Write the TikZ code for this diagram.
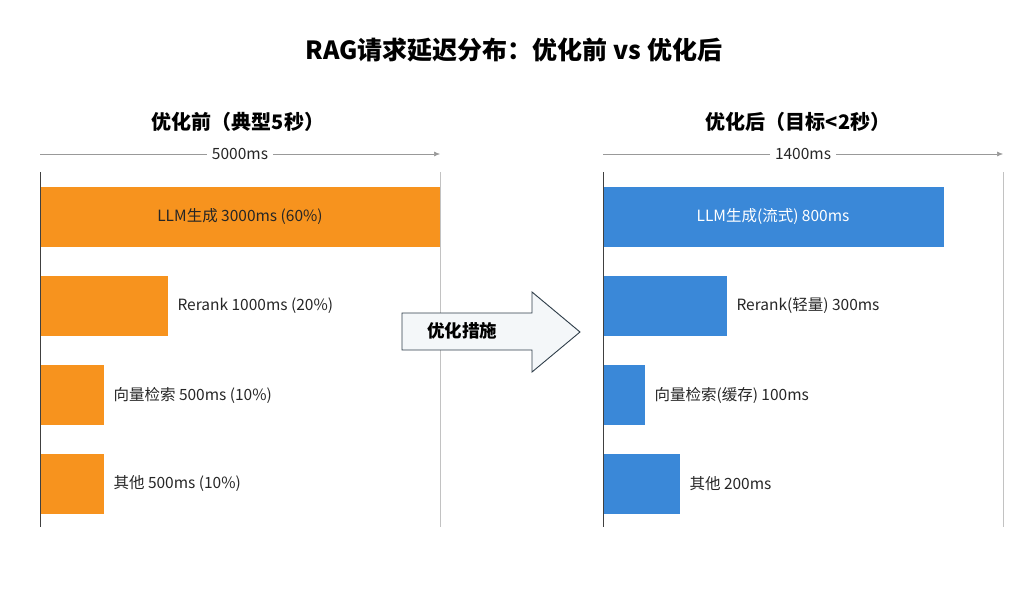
\documentclass[tikz,border=0pt]{standalone}
\usepackage{fontspec}
\setmainfont{Noto Sans CJK SC}
\usetikzlibrary{arrows.meta}
\definecolor{org}{HTML}{F7931E}
\definecolor{blu}{HTML}{3A88D8}
\definecolor{axg}{HTML}{999999}
\definecolor{arrfill}{HTML}{F4F7F9}
\definecolor{arrline}{HTML}{2F3E4A}
\tikzset{
 lbl/.style={font=\fontsize{15.5}{18}\selectfont, text=black!85},
 bar/.style={draw=none},
 scaleax/.style={draw=axg, -{Latex[length=6pt,width=5pt]}, line width=0.6pt},
}
\begin{document}
\begin{tikzpicture}[x=1pt,y=-1pt]
\useasboundingbox (0,0) rectangle (1028,605);
\node[font=\fontsize{25}{28}\selectfont\bfseries] (title) at (514,50) {RAG请求延迟分布：优化前 vs 优化后};
% left
\node[font=\fontsize{20}{23}\selectfont\bfseries] (lt) at (238,122) {优化前（典型5秒）};
\node[lbl, fill=white, inner xsep=5pt] (ls) at (240,154) {5000ms};
\coordinate (l0) at (40,154); \coordinate (l1) at (440,154);
\draw[axg, line width=0.6pt] (l0) -- (ls.west);
\draw[scaleax] (ls.east) -- (l1);
\draw[axg!60, line width=0.6pt] (440,172) -- (440,527);
\fill[org] (40,187) rectangle (440,247);
\node[lbl] (la) at (240,217) {LLM生成 3000ms (60\%)};
\fill[org] (40,276) rectangle (168,336);
\node[lbl, anchor=west] (lb) at (174,306) {Rerank 1000ms (20\%)};
\fill[org] (40,365) rectangle (104,425);
\node[lbl, anchor=west] (lc) at (110,395) {向量检索 500ms (10\%)};
\fill[org] (40,454) rectangle (104,514);
\node[lbl, anchor=west] (ld) at (110,484) {其他 500ms (10\%)};
\draw[black!75, line width=0.7pt] (40,172) -- (40,527);
% arrow
\draw[arrline, fill=arrfill, line width=0.9pt, line join=miter] (402,313) -- (532,313) -- (532,292) -- (580,332) -- (532,372) -- (532,350) -- (402,350) -- cycle;
\node[font=\fontsize{17.5}{20}\selectfont\bfseries] (arr) at (462,331) {优化措施};
% right
\node[font=\fontsize{20}{23}\selectfont\bfseries] (rt) at (798,122) {优化后（目标<2秒）};
\node[lbl, fill=white, inner xsep=5pt] (rs) at (803,154) {1400ms};
\coordinate (r0) at (603,154); \coordinate (r1) at (1003,154);
\draw[axg, line width=0.6pt] (r0) -- (rs.west);
\draw[scaleax] (rs.east) -- (r1);
\draw[axg!60, line width=0.6pt] (1003,172) -- (1003,527);
\fill[blu] (603,187) rectangle (944,247);
\node[lbl, text=white] (ra) at (773,217) {LLM生成(流式) 800ms};
\fill[blu] (603,276) rectangle (727,336);
\node[lbl, anchor=west] (rb) at (733,306) {Rerank(轻量) 300ms};
\fill[blu] (603,365) rectangle (645,425);
\node[lbl, anchor=west] (rc) at (651,395) {向量检索(缓存) 100ms};
\fill[blu] (603,454) rectangle (680,514);
\node[lbl, anchor=west] (rd) at (686,484) {其他 200ms};
\draw[black!75, line width=0.7pt] (603,172) -- (603,527);
\end{tikzpicture}
\end{document}
